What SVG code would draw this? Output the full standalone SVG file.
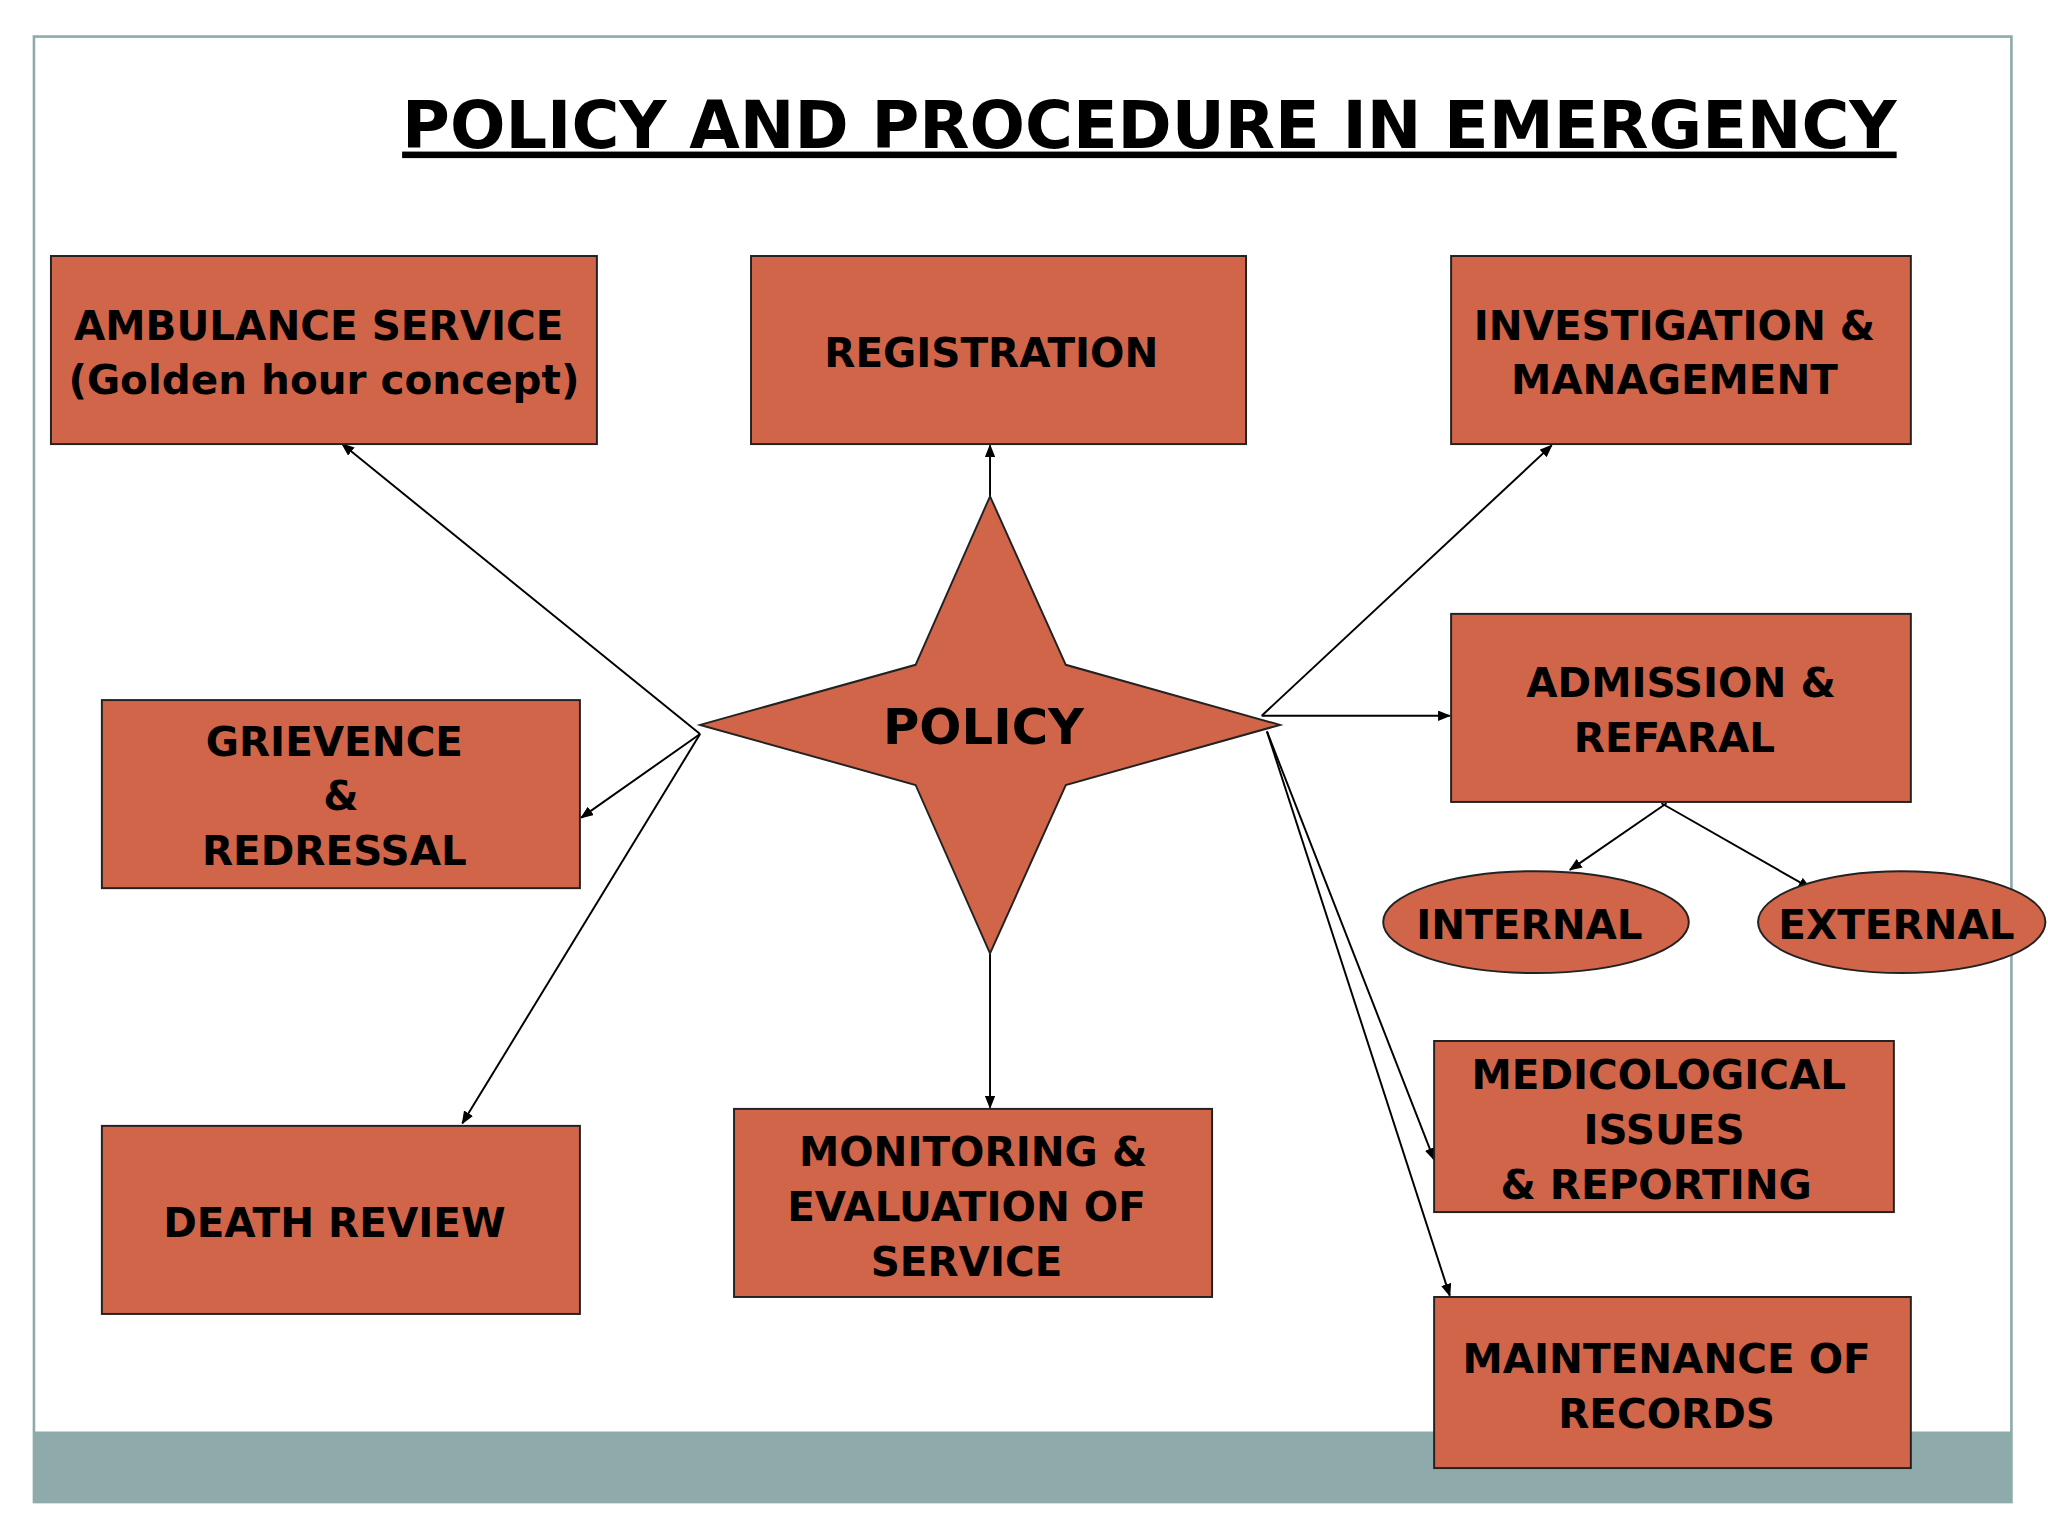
<svg xmlns="http://www.w3.org/2000/svg" width="2048" height="1536" viewBox="0 0 2048 1536">
<defs>
<marker id="ah" markerWidth="10" markerHeight="8" refX="9" refY="4" orient="auto" markerUnits="userSpaceOnUse"><path d="M0,0 L10,4 L0,8 Z" fill="#000"/></marker>
<style>
.b{fill:#D1654A;stroke:#222;stroke-width:1.5}
.t{font-family:"DejaVu Sans",Verdana,sans-serif;font-weight:bold;font-size:31px;fill:#000;text-anchor:middle}
.c{stroke:#000;stroke-width:1.5;fill:none;marker-end:url(#ah)}
</style>
</defs>
<rect width="2048" height="1536" fill="#fff"/>
<g transform="scale(1.30612)">
<rect x="26" y="28" width="1514" height="1122" fill="#fff" stroke="#8FAAAA" stroke-width="2"/>
<rect x="26" y="1096" width="1514" height="54" fill="#8FAAAA"/>
<text x="880" y="113" class="t" style="font-size:50px" text-decoration="underline">POLICY AND PROCEDURE IN EMERGENCY</text>
<line x1="330" y1="118" x2="1429" y2="118" stroke="#000" stroke-width="3"/>
<g id="connectors">
<line class="c" x1="536" y1="562" x2="262" y2="340"/>
<line class="c" x1="758" y1="380" x2="758" y2="341"/>
<line class="c" x1="966" y1="548" x2="1188" y2="341"/>
<line class="c" x1="966" y1="548" x2="1110" y2="548"/>
<line class="c" x1="536" y1="562" x2="445" y2="626"/>
<line class="c" x1="536" y1="562" x2="354" y2="860"/>
<line class="c" x1="758" y1="730" x2="758" y2="848"/>
<line class="c" x1="970" y1="560" x2="1098" y2="888"/>
<line class="c" x1="970" y1="560" x2="1110" y2="992"/>
<line class="c" x1="1276" y1="615" x2="1202" y2="666"/>
<line class="c" x1="1272" y1="615" x2="1386" y2="680"/>
</g>
<g id="policy"><polygon class="b" points="758,380 816,509 980,555 816,601 758,730 701,601 536,555 701,509"/><text class="t" x="753" y="570" style="font-size:38px">POLICY</text></g>
<g id="ambulance"><rect class="b" x="39" y="196" width="418" height="144"/><text class="t" x="244" y="260">AMBULANCE SERVICE</text><text class="t" x="248" y="302">(Golden hour concept)</text></g>
<g id="registration"><rect class="b" x="575" y="196" width="379" height="144"/><text class="t" x="759" y="281">REGISTRATION</text></g>
<g id="investigation"><rect class="b" x="1111" y="196" width="352" height="144"/><text class="t" x="1282" y="260">INVESTIGATION &amp;</text><text class="t" x="1282" y="302">MANAGEMENT</text></g>
<g id="admission"><rect class="b" x="1111" y="470" width="352" height="144"/><text class="t" x="1287" y="534">ADMISSION &amp;</text><text class="t" x="1282" y="576">REFARAL</text></g>
<g id="grievance"><rect class="b" x="78" y="536" width="366" height="144"/><text class="t" x="256" y="579">GRIEVENCE</text><text class="t" x="261" y="620">&amp;</text><text class="t" x="256" y="662">REDRESSAL</text></g>
<g id="death"><rect class="b" x="78" y="862" width="366" height="144"/><text class="t" x="256" y="947">DEATH REVIEW</text></g>
<g id="monitoring"><rect class="b" x="562" y="849" width="366" height="144"/><text class="t" x="745" y="893">MONITORING &amp;</text><text class="t" x="740" y="935">EVALUATION OF</text><text class="t" x="740" y="977">SERVICE</text></g>
<g id="internal"><ellipse class="b" cx="1176" cy="706" rx="117" ry="39"/><text class="t" x="1171" y="719">INTERNAL</text></g>
<g id="external"><ellipse class="b" cx="1456" cy="706" rx="110" ry="39"/><text class="t" x="1452" y="719">EXTERNAL</text></g>
<g id="medicological"><rect class="b" x="1098" y="797" width="352" height="131"/><text class="t" x="1270" y="834">MEDICOLOGICAL</text><text class="t" x="1274" y="876">ISSUES</text><text class="t" x="1268" y="918">&amp; REPORTING</text></g>
<g id="maintenance"><rect class="b" x="1098" y="993" width="365" height="131"/><text class="t" x="1276" y="1051">MAINTENANCE OF</text><text class="t" x="1276" y="1093">RECORDS</text></g>
</g>
</svg>
